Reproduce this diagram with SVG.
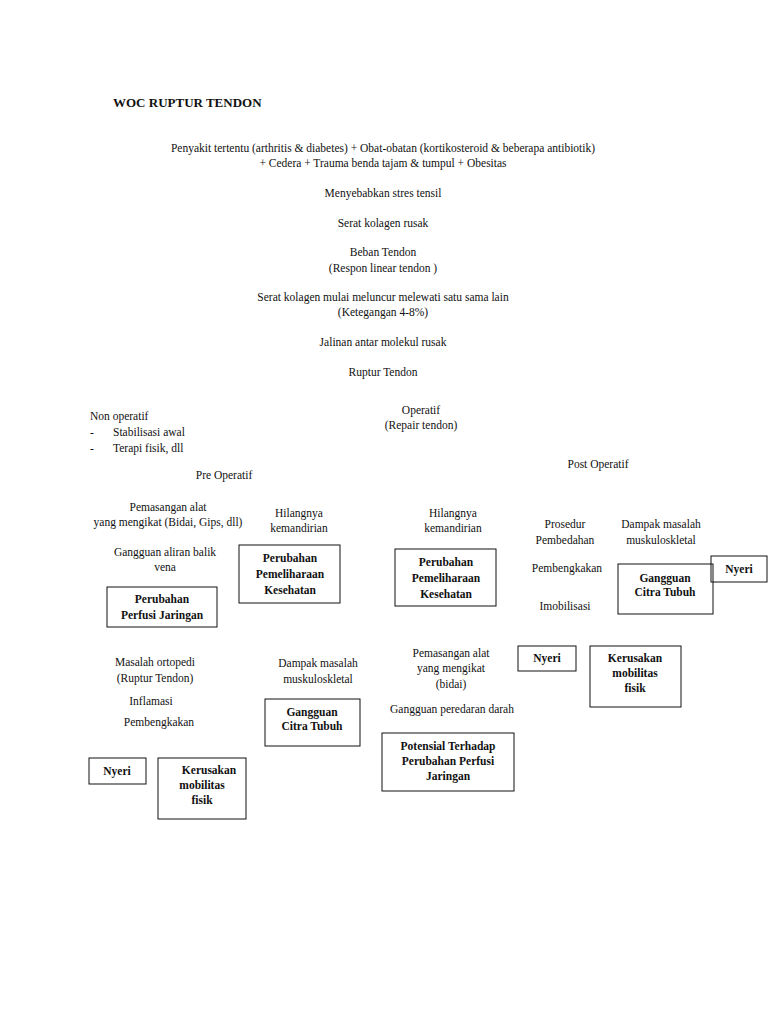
<svg xmlns="http://www.w3.org/2000/svg" width="768" height="1024" viewBox="0 0 768 1024">
<style>
text{font-family:"Liberation Serif",serif;font-size:11.5px;fill:#111}
.c{text-anchor:middle}
.b{font-weight:bold}
rect{fill:none;stroke:#111;stroke-width:1}
</style>
<rect x="0" y="0" width="768" height="1024" style="fill:#fff;stroke:none"/>
<text x="113" y="107" class="b" style="font-size:13px">WOC RUPTUR TENDON</text>
<g class="c">
<text x="383" y="152" class="c">Penyakit tertentu (arthritis &amp; diabetes) + Obat-obatan (kortikosteroid &amp; beberapa antibiotik)</text>
<text x="383" y="167" class="c">+ Cedera + Trauma benda tajam &amp; tumpul + Obesitas</text>
<text x="383" y="197" class="c">Menyebabkan stres tensil</text>
<text x="383" y="227" class="c">Serat kolagen rusak</text>
<text x="383" y="256" class="c">Beban Tendon</text>
<text x="383" y="272" class="c">(Respon linear tendon )</text>
<text x="383" y="301" class="c">Serat kolagen mulai meluncur melewati satu sama lain</text>
<text x="383" y="316" class="c">(Ketegangan 4-8%)</text>
<text x="383" y="346" class="c">Jalinan antar molekul rusak</text>
<text x="383" y="376" class="c">Ruptur Tendon</text>
</g>
<text x="90" y="420">Non operatif</text>
<text x="90" y="436">-</text><text x="113" y="436">Stabilisasi awal</text>
<text x="90" y="452">-</text><text x="113" y="452">Terapi fisik, dll</text>
<text x="421" y="414" class="c">Operatif</text>
<text x="421" y="429" class="c">(Repair tendon)</text>
<text x="224" y="479" class="c">Pre Operatif</text>
<text x="598" y="468" class="c">Post Operatif</text>
<text x="168" y="511" class="c">Pemasangan alat</text>
<text x="168" y="526" class="c">yang mengikat (Bidai, Gips, dll)</text>
<text x="299" y="517" class="c">Hilangnya</text>
<text x="299" y="532" class="c">kemandirian</text>
<text x="453" y="517" class="c">Hilangnya</text>
<text x="453" y="532" class="c">kemandirian</text>
<text x="565" y="528" class="c">Prosedur</text>
<text x="565" y="544" class="c">Pembedahan</text>
<text x="661" y="528" class="c">Dampak masalah</text>
<text x="661" y="544" class="c">muskuloskletal</text>
<text x="165" y="556" class="c">Gangguan aliran balik</text>
<text x="165" y="571" class="c">vena</text>
<text x="567" y="572" class="c">Pembengkakan</text>
<text x="565" y="610" class="c">Imobilisasi</text>
<g id="n1"><rect x="239" y="545" width="101" height="58"/>
<text x="290" y="562" class="c b">Perubahan</text><text x="290" y="578" class="c b">Pemeliharaan</text><text x="290" y="594" class="c b">Kesehatan</text></g>
<g id="n2"><rect x="395" y="549" width="101" height="57"/>
<text x="446" y="566" class="c b">Perubahan</text><text x="446" y="582" class="c b">Pemeliharaan</text><text x="446" y="598" class="c b">Kesehatan</text></g>
<g id="n3"><rect x="107" y="587" width="110" height="40"/>
<text x="162" y="603" class="c b">Perubahan</text><text x="162" y="619" class="c b">Perfusi Jaringan</text></g>
<g id="n4"><rect x="618" y="564" width="95" height="50"/>
<text x="665" y="582" class="c b">Gangguan</text><text x="665" y="596" class="c b">Citra Tubuh</text></g>
<g id="n5"><rect x="711" y="556" width="56" height="26"/>
<text x="739" y="573" class="c b">Nyeri</text></g>
<text x="451" y="657" class="c">Pemasangan alat</text>
<text x="451" y="672" class="c">yang mengikat</text>
<text x="451" y="688" class="c">(bidai)</text>
<g id="n6"><rect x="518" y="646" width="58" height="25"/>
<text x="547" y="662" class="c b">Nyeri</text></g>
<g id="n7"><rect x="590" y="646" width="91" height="61"/>
<text x="635" y="662" class="c b">Kerusakan</text><text x="635" y="677" class="c b">mobilitas</text><text x="635" y="692" class="c b">fisik</text></g>
<text x="155" y="666" class="c">Masalah ortopedi</text>
<text x="155" y="682" class="c">(Ruptur Tendon)</text>
<text x="318" y="667" class="c">Dampak masalah</text>
<text x="318" y="683" class="c">muskuloskletal</text>
<text x="151" y="705" class="c">Inflamasi</text>
<text x="452" y="713" class="c">Gangguan peredaran darah</text>
<text x="159" y="726" class="c">Pembengkakan</text>
<g id="n8"><rect x="265" y="699" width="95" height="47"/>
<text x="312" y="716" class="c b">Gangguan</text><text x="312" y="730" class="c b">Citra Tubuh</text></g>
<g id="n9"><rect x="382" y="733" width="132" height="58"/>
<text x="448" y="750" class="c b">Potensial Terhadap</text><text x="448" y="765" class="c b">Perubahan Perfusi</text><text x="448" y="780" class="c b">Jaringan</text></g>
<g id="n10"><rect x="89" y="758" width="57" height="26"/>
<text x="117" y="775" class="c b">Nyeri</text></g>
<g id="n11"><rect x="158" y="758" width="88" height="61"/>
<text x="209" y="774" class="c b">Kerusakan</text><text x="202" y="789" class="c b">mobilitas</text><text x="202" y="804" class="c b">fisik</text></g>
<g id="connectors"></g>
</svg>
